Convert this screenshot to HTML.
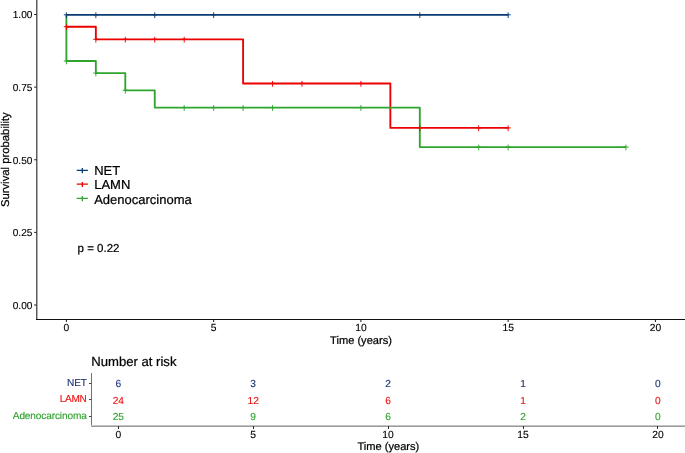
<!DOCTYPE html>
<html><head><meta charset="utf-8"><title>Kaplan-Meier survival curves</title>
<style>html,body{margin:0;padding:0;background:#fff;width:685px;height:453px;overflow:hidden}svg{display:block}</style>
</head><body>
<svg width="685" height="453" viewBox="0 0 685 453" text-rendering="geometricPrecision" font-family='"Liberation Sans", Arial, sans-serif'>
<rect width="685" height="453" fill="#fff"/>
<g shape-rendering="crispEdges">
<rect x="36" y="0" width="1" height="320" fill="#5a5a5a"/>
<rect x="37" y="0" width="1" height="319" fill="#b0b0b0"/>
<rect x="36" y="319" width="649" height="1" fill="#111"/>
</g>
<g stroke="#1a1a1a" stroke-width="1" fill="none">
<path d="M34.2,14.5H36.5"/>
<path d="M34.2,87.125H36.5"/>
<path d="M34.2,159.75H36.5"/>
<path d="M34.2,232.375H36.5"/>
<path d="M34.2,305.0H36.5"/>
<path d="M66.40,319.5V322"/>
<path d="M213.65,319.5V322"/>
<path d="M360.90,319.5V322"/>
<path d="M508.15,319.5V322"/>
<path d="M655.40,319.5V322"/>
</g>
<text x="32.4" y="18.25" font-size="10.1" text-anchor="end" fill="#000" stroke="#000" stroke-width="0.12">1.00</text>
<text x="32.4" y="90.88" font-size="10.1" text-anchor="end" fill="#000" stroke="#000" stroke-width="0.12">0.75</text>
<text x="32.4" y="163.50" font-size="10.1" text-anchor="end" fill="#000" stroke="#000" stroke-width="0.12">0.50</text>
<text x="32.4" y="236.12" font-size="10.1" text-anchor="end" fill="#000" stroke="#000" stroke-width="0.12">0.25</text>
<text x="32.4" y="308.75" font-size="10.1" text-anchor="end" fill="#000" stroke="#000" stroke-width="0.12">0.00</text>
<text x="66.40" y="330.85" font-size="10.3" text-anchor="middle" fill="#000" stroke="#000" stroke-width="0.12">0</text>
<text x="213.65" y="330.85" font-size="10.3" text-anchor="middle" fill="#000" stroke="#000" stroke-width="0.12">5</text>
<text x="360.90" y="330.85" font-size="10.3" text-anchor="middle" fill="#000" stroke="#000" stroke-width="0.12">10</text>
<text x="508.15" y="330.85" font-size="10.3" text-anchor="middle" fill="#000" stroke="#000" stroke-width="0.12">15</text>
<text x="655.40" y="330.85" font-size="10.3" text-anchor="middle" fill="#000" stroke="#000" stroke-width="0.12">20</text>
<text x="361" y="343.7" font-size="11.1" text-anchor="middle" fill="#000" stroke="#000" stroke-width="0.22">Time (years)</text>
<text transform="translate(8.9,159.7) rotate(-90)" font-size="11.3" text-anchor="middle" stroke="#000" stroke-width="0.22">Survival probability</text>
<path d="M66.40,14.80H508.15" stroke="#0A3A72" stroke-width="1.85" stroke-linejoin="round" fill="none"/>
<path d="M66.40,26.74H95.85V39.30H243.10V83.45H390.35V127.90H508.15" stroke="#EC0000" stroke-width="1.85" stroke-linejoin="round" fill="none"/>
<path d="M66.40,14.65H66.40V61.00H95.85V73.10H125.30V90.30H154.75V107.60H419.80V147.10H625.95" stroke="#2FA52F" stroke-width="1.85" stroke-linejoin="round" fill="none"/>
<path d="M63.80,14.80h5.2M66.40,12.30v5.8M93.25,14.80h5.2M95.85,12.30v5.8M152.15,14.80h5.2M154.75,12.30v5.8M211.05,14.80h5.2M213.65,12.30v5.8M417.20,14.80h5.2M419.80,12.30v5.8M505.55,14.80h5.2M508.15,12.30v5.8" stroke="#0A3A72" stroke-width="0.95" fill="none"/>
<path d="M63.80,26.74h5.2M66.40,24.24v5.8M93.25,39.30h5.2M95.85,36.80v5.8M122.70,39.30h5.2M125.30,36.80v5.8M152.15,39.30h5.2M154.75,36.80v5.8M181.60,39.30h5.2M184.20,36.80v5.8M269.95,83.45h5.2M272.55,80.95v5.8M299.40,83.45h5.2M302.00,80.95v5.8M358.30,83.45h5.2M360.90,80.95v5.8M417.20,127.90h5.2M419.80,125.40v5.8M476.10,127.90h5.2M478.70,125.40v5.8M505.55,127.90h5.2M508.15,125.40v5.8" stroke="#EC0000" stroke-width="0.95" fill="none"/>
<path d="M63.80,61.00h5.2M66.40,58.50v5.8M93.25,73.10h5.2M95.85,70.60v5.8M122.70,90.30h5.2M125.30,87.80v5.8M181.60,107.60h5.2M184.20,105.10v5.8M211.05,107.60h5.2M213.65,105.10v5.8M240.50,107.60h5.2M243.10,105.10v5.8M269.95,107.60h5.2M272.55,105.10v5.8M358.30,107.60h5.2M360.90,105.10v5.8M476.10,147.10h5.2M478.70,144.60v5.8M505.55,147.10h5.2M508.15,144.60v5.8M623.35,147.10h5.2M625.95,144.60v5.8" stroke="#2FA52F" stroke-width="0.95" fill="none"/>
<path d="M76.7,170.3H87.9M82.3,168.0v5.2" stroke="#0A3A72" stroke-width="1.3" fill="none"/>
<text x="94.2" y="175.0" font-size="13" fill="#000" stroke="#000" stroke-width="0.22">NET</text>
<path d="M76.7,184.2H87.9M82.3,181.89999999999998v5.2" stroke="#EC0000" stroke-width="1.3" fill="none"/>
<text x="94.2" y="189.1" font-size="13" fill="#000" stroke="#000" stroke-width="0.22">LAMN</text>
<path d="M76.7,198.4H87.9M82.3,196.1v5.2" stroke="#2FA52F" stroke-width="1.3" fill="none"/>
<text x="94.2" y="203.8" font-size="13" fill="#000" stroke="#000" stroke-width="0.22">Adenocarcinoma</text>
<text x="77.6" y="251.6" font-size="11.5" fill="#000" stroke="#000" stroke-width="0.22">p = 0.22</text>
<text x="91.3" y="365.6" font-size="13.1" fill="#000" stroke="#000" stroke-width="0.22">Number at risk</text>
<g shape-rendering="crispEdges">
<rect x="91" y="373" width="1" height="53" fill="#707070"/>
<rect x="91" y="425" width="594" height="1" fill="#c4c4c4"/>
<rect x="91" y="426" width="594" height="1" fill="#9a9a9a"/>
<rect x="89" y="383" width="2" height="1" fill="#3a3a3a"/>
<rect x="89" y="399" width="2" height="1" fill="#3a3a3a"/>
<rect x="89" y="416" width="2" height="1" fill="#3a3a3a"/>
<rect x="118" y="426" width="1" height="3" fill="#2a2a2a"/>
<rect x="253" y="426" width="1" height="3" fill="#2a2a2a"/>
<rect x="388" y="426" width="1" height="3" fill="#2a2a2a"/>
<rect x="523" y="426" width="1" height="3" fill="#2a2a2a"/>
<rect x="657" y="426" width="1" height="3" fill="#2a2a2a"/>
</g>
<text x="86.8" y="386.20" font-size="10.1" text-anchor="end" fill="#1E3272" stroke="#1E3272" stroke-width="0.12" textLength="19.7" lengthAdjust="spacing">NET</text>
<text x="118.30" y="387.40" font-size="10.2" text-anchor="middle" fill="#1E3272" stroke="#1E3272" stroke-width="0.12">6</text>
<text x="253.20" y="387.40" font-size="10.2" text-anchor="middle" fill="#1E3272" stroke="#1E3272" stroke-width="0.12">3</text>
<text x="388.10" y="387.40" font-size="10.2" text-anchor="middle" fill="#1E3272" stroke="#1E3272" stroke-width="0.12">2</text>
<text x="523.00" y="387.40" font-size="10.2" text-anchor="middle" fill="#1E3272" stroke="#1E3272" stroke-width="0.12">1</text>
<text x="657.90" y="387.40" font-size="10.2" text-anchor="middle" fill="#1E3272" stroke="#1E3272" stroke-width="0.12">0</text>
<text x="86.8" y="402.10" font-size="10.1" text-anchor="end" fill="#EE1111" stroke="#EE1111" stroke-width="0.12" textLength="27.0" lengthAdjust="spacing">LAMN</text>
<text x="118.30" y="403.60" font-size="10.2" text-anchor="middle" fill="#EE1111" stroke="#EE1111" stroke-width="0.12">24</text>
<text x="253.20" y="403.60" font-size="10.2" text-anchor="middle" fill="#EE1111" stroke="#EE1111" stroke-width="0.12">12</text>
<text x="388.10" y="403.60" font-size="10.2" text-anchor="middle" fill="#EE1111" stroke="#EE1111" stroke-width="0.12">6</text>
<text x="523.00" y="403.60" font-size="10.2" text-anchor="middle" fill="#EE1111" stroke="#EE1111" stroke-width="0.12">1</text>
<text x="657.90" y="403.60" font-size="10.2" text-anchor="middle" fill="#EE1111" stroke="#EE1111" stroke-width="0.12">0</text>
<text x="86.8" y="419.20" font-size="10.1" text-anchor="end" fill="#2FA32F" stroke="#2FA32F" stroke-width="0.12" textLength="74.0" lengthAdjust="spacing">Adenocarcinoma</text>
<text x="118.30" y="420.30" font-size="10.2" text-anchor="middle" fill="#2FA32F" stroke="#2FA32F" stroke-width="0.12">25</text>
<text x="253.20" y="420.30" font-size="10.2" text-anchor="middle" fill="#2FA32F" stroke="#2FA32F" stroke-width="0.12">9</text>
<text x="388.10" y="420.30" font-size="10.2" text-anchor="middle" fill="#2FA32F" stroke="#2FA32F" stroke-width="0.12">6</text>
<text x="523.00" y="420.30" font-size="10.2" text-anchor="middle" fill="#2FA32F" stroke="#2FA32F" stroke-width="0.12">2</text>
<text x="657.90" y="420.30" font-size="10.2" text-anchor="middle" fill="#2FA32F" stroke="#2FA32F" stroke-width="0.12">0</text>
<text x="118.30" y="438.0" font-size="10.3" text-anchor="middle" fill="#000" stroke="#000" stroke-width="0.12">0</text>
<text x="253.20" y="438.0" font-size="10.3" text-anchor="middle" fill="#000" stroke="#000" stroke-width="0.12">5</text>
<text x="388.10" y="438.0" font-size="10.3" text-anchor="middle" fill="#000" stroke="#000" stroke-width="0.12">10</text>
<text x="523.00" y="438.0" font-size="10.3" text-anchor="middle" fill="#000" stroke="#000" stroke-width="0.12">15</text>
<text x="657.90" y="438.0" font-size="10.3" text-anchor="middle" fill="#000" stroke="#000" stroke-width="0.12">20</text>
<text x="388.4" y="450.1" font-size="11.1" text-anchor="middle" fill="#000" stroke="#000" stroke-width="0.22">Time (years)</text>
</svg>
</body></html>
